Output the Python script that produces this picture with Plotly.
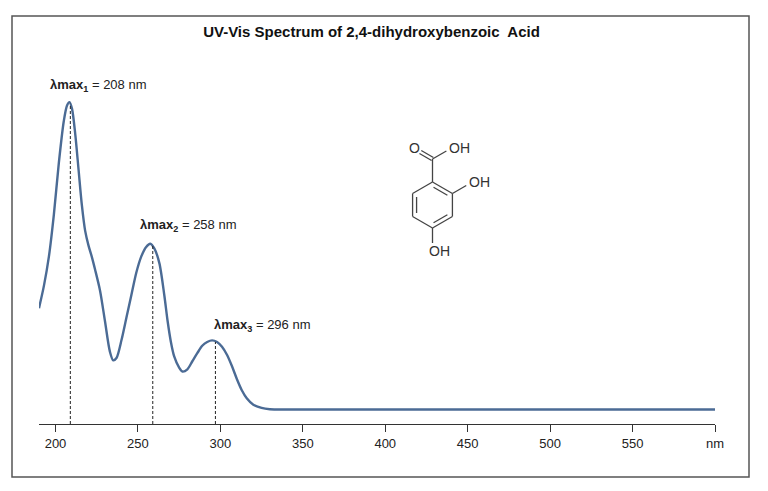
import numpy as np
import plotly.graph_objects as go

# UV-Vis spectrum (absorbance, arbitrary units)
wavelength = [190, 193, 196, 199, 202, 205, 207, 208.5, 210, 212, 214, 216, 218, 220,
              222, 224, 227, 230, 233, 235, 237, 240, 243, 246, 249, 252, 255, 257.5,
              260, 263, 266, 268, 270, 272, 275, 277, 280, 283, 286, 289, 292, 295,
              298, 301, 304, 307, 310, 313, 316, 320, 325, 330, 340, 400, 500, 600]
absorbance = [0.36, 0.43, 0.52, 0.65, 0.81, 0.94, 0.99, 1.00, 0.98, 0.90, 0.79, 0.68, 0.60, 0.555,
              0.52, 0.48, 0.415, 0.32, 0.225, 0.198, 0.205, 0.26, 0.33, 0.40, 0.47, 0.52, 0.55, 0.56,
              0.545, 0.50, 0.40, 0.32, 0.255, 0.21, 0.175, 0.163, 0.17, 0.195, 0.22, 0.243, 0.255, 0.26,
              0.255, 0.24, 0.215, 0.18, 0.14, 0.105, 0.08, 0.06, 0.05, 0.046, 0.045, 0.045, 0.045, 0.045]

lambda_max = [208, 258, 296]
peak_abs = [1.00, 0.56, 0.26]

tick_vals = [200, 250, 300, 350, 400, 450, 500, 550, 600]
tick_text = ["200", "250", "300", "350", "400", "450", "500", "550", "nm"]

title = "UV-Vis Spectrum of 2,4-dihydroxybenzoic  Acid"

W, H = 768, 491
ML, MR, MT, MB = 39, 53, 70, 67
PW, PH = W - ML - MR, H - MT - MB
FONT = "Liberation Sans, Arial, sans-serif"


def px(x):
    return (x - ML) / PW


def py(y):
    return (H - MB - y) / PH


fig = go.Figure()
fig.add_trace(go.Scatter(
    x=wavelength, y=absorbance, mode="lines",
    line=dict(color="#4b6b95", width=2.4, shape="spline", smoothing=0.8),
    hoverinfo="skip", showlegend=False,
))

shapes = []
annotations = []

# dashed drop lines + lambda max labels
label_dx = [-12.5, -7.9, -1.0]
label_dy = [0.053, 0.058, 0.047]
for i, (lm, a) in enumerate(zip(lambda_max, peak_abs)):
    shapes.append(dict(type="line", xref="x", yref="y", x0=lm + 1, x1=lm + 1, y0=0, y1=a - 0.005,
                       line=dict(color="#222", width=1, dash="3px,2px")))
    annotations.append(dict(
        xref="x", yref="y", x=lm + label_dx[i], y=a + label_dy[i],
        xanchor="left", yanchor="middle", showarrow=False,
        text="<b>λmax<sub>%d</sub></b> = %d nm" % (i + 1, lm),
        font=dict(family=FONT, size=13, color="#222"),
    ))

# outer frame
shapes.append(dict(type="rect", xref="paper", yref="paper",
                   x0=px(12), x1=px(749), y0=py(477), y1=py(16),
                   line=dict(color="#555", width=1.5), fillcolor="rgba(0,0,0,0)", layer="below"))

# 2,4-dihydroxybenzoic acid structure (pixel geometry, bond length r)
cx, cy, r = 432.5, 205.0, 23.0
bond_col = dict(color="#444", width=1.3)


def vtx(x0, y0, ang, length=r):
    t = np.radians(ang)
    return x0 + length * np.cos(t), y0 - length * np.sin(t)


def bond(p, q, trim_a=0.0, trim_b=0.0, offset=0.0):
    (x0, y0), (x1, y1) = p, q
    dx, dy = x1 - x0, y1 - y0
    L = np.hypot(dx, dy)
    ux, uy = dx / L, dy / L
    nx, ny = -uy * offset, ux * offset
    a = (x0 + ux * trim_a + nx, y0 + uy * trim_a + ny)
    b = (x1 - ux * trim_b + nx, y1 - uy * trim_b + ny)
    shapes.append(dict(type="line", xref="paper", yref="paper",
                       x0=px(a[0]), y0=py(a[1]), x1=px(b[0]), y1=py(b[1]), line=bond_col))


ring = [vtx(cx, cy, ang) for ang in (90, 30, -30, -90, -150, 150)]
for k in range(6):
    p, q = ring[k], ring[(k + 1) % 6]
    bond(p, q)
    if k in (0, 2, 4):
        # inner line of the double bond, pulled toward the ring centre
        mx, my = (p[0] + q[0]) / 2, (p[1] + q[1]) / 2
        s = 4.0 / np.hypot(cx - mx, cy - my)
        ip = (p[0] + (cx - mx) * s, p[1] + (cy - my) * s)
        iq = (q[0] + (cx - mx) * s, q[1] + (cy - my) * s)
        bond(ip, iq, trim_a=3.5, trim_b=3.5)

c_acid = vtx(*ring[0], 90)
bond(ring[0], c_acid)
o_dbl = vtx(*c_acid, 150)
bond(c_acid, o_dbl, trim_b=9, offset=1.8)
bond(c_acid, o_dbl, trim_b=9, offset=-1.8)
o_acid = vtx(*c_acid, 30)
bond(c_acid, o_acid, trim_b=7)
o_2 = vtx(*ring[1], 30)
bond(ring[1], o_2, trim_b=7)
o_4 = vtx(*ring[3], -90)
bond(ring[3], o_4, trim_b=8)

for (lx, ly), txt in ((o_dbl, "O"), (o_acid, "OH"), (o_2, "OH"), (o_4, "OH")):
    annotations.append(dict(
        xref="paper", yref="paper", x=px(lx - 5.5), y=py(ly),
        xanchor="left", yanchor="middle", showarrow=False, text=txt,
        font=dict(family=FONT, size=14, color="#333"),
    ))

fig.update_layout(
    width=W, height=H, autosize=False,
    margin=dict(l=ML, r=MR, t=MT, b=MB),
    paper_bgcolor="white", plot_bgcolor="white",
    title=dict(text="<b>%s</b>" % title, x=371.5 / W, y=1 - 31.5 / H,
               xanchor="center", yanchor="middle",
               font=dict(family=FONT, size=15, color="#111")),
    xaxis=dict(range=[190, 600], showgrid=False, zeroline=False,
               showline=True, linecolor="#333", linewidth=1.2,
               ticks="outside", ticklen=7, tickcolor="#333", tickwidth=1.2,
               tickvals=tick_vals, ticktext=tick_text,
               tickfont=dict(family=FONT, size=13, color="#222")),
    yaxis=dict(range=[0, 1.1], visible=False, fixedrange=True),
    shapes=shapes,
    annotations=annotations,
    showlegend=False,
)

# drop the default page margin so the figure sits at the window origin
fig.write_html("out.html", config={"displayModeBar": False},
               post_script="document.body.style.margin = '0';")
